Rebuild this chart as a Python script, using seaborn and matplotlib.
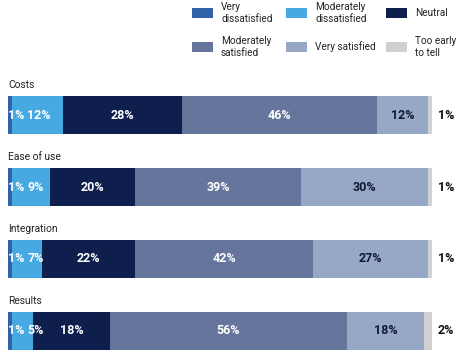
import matplotlib
matplotlib.use("Agg")
import matplotlib.pyplot as plt
import seaborn as sns
import pandas as pd
import numpy as np
from matplotlib.patches import Rectangle

categories = ["Costs", "Ease of use", "Integration", "Results"]
series = ["Very dissatisfied", "Moderately dissatisfied", "Neutral",
          "Moderately satisfied", "Very satisfied", "Too early to tell"]
legend_labels = ["Very\ndissatisfied", "Moderately\ndissatisfied", "Neutral",
                 "Moderately\nsatisfied", "Very satisfied", "Too early\nto tell"]
very_dissatisfied = [1, 1, 1, 1]
moderately_dissatisfied = [12, 9, 7, 5]
neutral = [28, 20, 22, 18]
moderately_satisfied = [46, 39, 42, 56]
very_satisfied = [12, 30, 27, 18]
too_early = [1, 1, 1, 2]

colors = ["#2f62a6", "#46a9e1", "#0e1f4d", "#65759b", "#97a7c6", "#d0d0d0"]
text_colors = ["white", "white", "white", "white", "#111a33", "#111111"]

sns.set_theme(style="white")
plt.rcParams["font.family"] = ["Roboto", "DejaVu Sans"]

values = np.array([very_dissatisfied, moderately_dissatisfied, neutral,
                   moderately_satisfied, very_satisfied, too_early], dtype=float)
cum = np.cumsum(values, axis=0)

W, H = 474, 361
fig = plt.figure(figsize=(W / 100, H / 100), dpi=100)
ax = fig.add_axes([8 / W, 0.0, 424 / W, (H - 75) / H])

for i in range(len(series) - 1, -1, -1):
    df = pd.DataFrame({"cat": categories, "val": cum[i]})
    sns.barplot(data=df, x="val", y="cat", orient="h", color=colors[i],
                width=0.54, linewidth=0, saturation=1, ax=ax)

ax.set_xlim(0, 100)
ax.set_ylim(3.417, -0.556)
ax.set_axis_off()

fs = 9
for j, cat in enumerate(categories):
    ax.text(0, j - 0.42, cat, ha="left", va="center", fontsize=7.4, color="#222222")
    for i in range(len(series)):
        v = values[i, j]
        start = cum[i, j] - v
        label = f"{int(v)}%"
        if i == 0:
            ax.text(0.1, j, label, ha="left", va="center", fontsize=fs,
                    fontweight="bold", color="white")
        elif i == 1:
            ax.text(max(start + v / 2 + 0.2, 6.6), j, label, ha="center", va="center",
                    fontsize=fs, fontweight="bold", color="white")
        elif i == len(series) - 1:
            ax.text(101.4, j, label, ha="left", va="center", fontsize=fs,
                    fontweight="bold", color=text_colors[i], clip_on=False)
        else:
            ax.text(start + v / 2, j, label, ha="center", va="center",
                    fontsize=fs, fontweight="bold", color=text_colors[i])

# legend: 2 rows x 3 columns
col_x = [192, 286, 386]
row_y = [13, 47]
for k, lab in enumerate(legend_labels):
    r, c = divmod(k, 3)
    x0, yc = col_x[c], row_y[r]
    fig.add_artist(Rectangle((x0 / W, 1 - (yc + 5) / H), 21 / W, 10 / H,
                             transform=fig.transFigure, facecolor=colors[k],
                             edgecolor="none"))
    fig.text((x0 + 29) / W, 1 - yc / H, lab, ha="left", va="center",
             fontsize=7.2, color="#222222", linespacing=1.15)

fig.savefig("out.png", dpi=100)
